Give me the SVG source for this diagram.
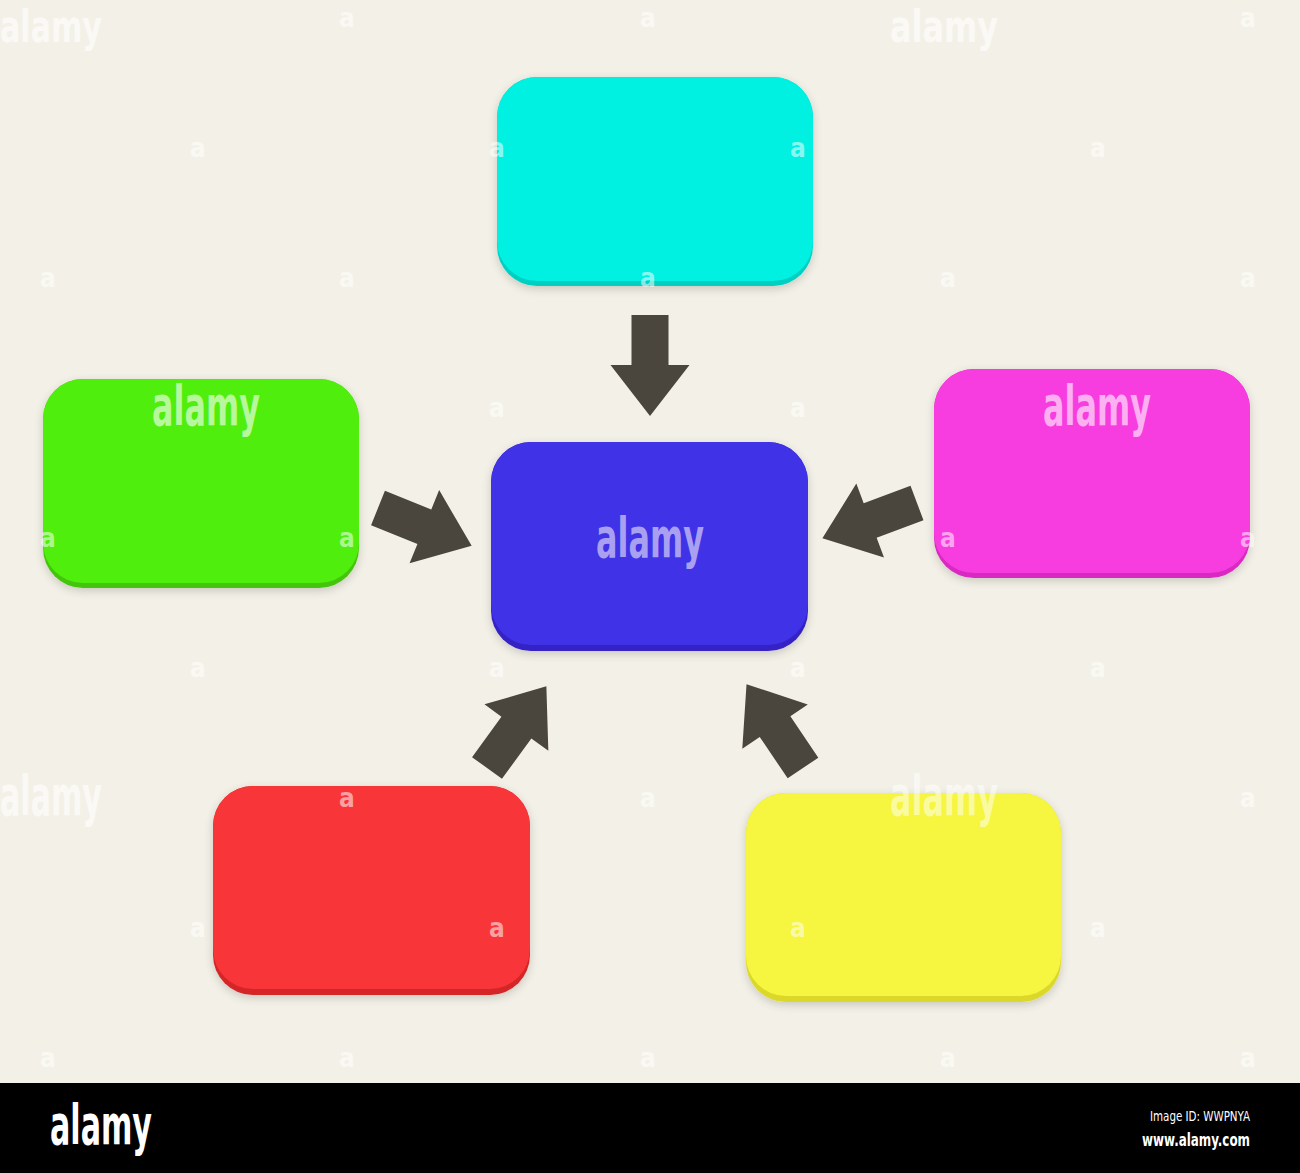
<svg xmlns="http://www.w3.org/2000/svg" width="1300" height="1173" viewBox="0 0 1300 1173">
<defs>
<style>
.wm{font-family:"DejaVu Sans Condensed","DejaVu Sans",sans-serif;font-weight:bold;font-stretch:condensed}
.sm{font-family:"DejaVu Sans Condensed","DejaVu Sans",sans-serif;font-weight:bold;font-size:26px;fill:#ffffff;fill-opacity:0.55;text-anchor:middle}
.arrow{fill:#4a463d}
</style>
<filter id="sh" x="-20%" y="-20%" width="140%" height="140%">
<feGaussianBlur in="SourceAlpha" stdDeviation="5"/>
<feOffset dx="0" dy="3"/>
<feComponentTransfer><feFuncA type="linear" slope="0.18"/></feComponentTransfer>
<feMerge><feMergeNode/><feMergeNode in="SourceGraphic"/></feMerge>
</filter>
<polygon id="arr" points="0,-18.5 50,-18.5 50,-39.5 101,0 50,39.5 50,18.5 0,18.5"/>
</defs>
<rect x="0" y="0" width="1300" height="1083" fill="#f3f1e7"/>
<rect x="0" y="1083" width="1300" height="90" fill="#000000"/>

<g id="node-cyan" filter="url(#sh)">
<rect x="497" y="77" width="316" height="209" rx="40" fill="#00cfc2"/>
<rect x="497" y="77" width="316" height="204" rx="40" fill="#02f0e2"/>
</g>
<g id="node-green" filter="url(#sh)">
<rect x="43" y="379" width="316" height="209" rx="40" fill="#45c40c"/>
<rect x="43" y="379" width="316" height="204" rx="40" fill="#50ee0a"/>
</g>
<g id="node-blue" filter="url(#sh)">
<rect x="491" y="442" width="317" height="209" rx="40" fill="#3424c4"/>
<rect x="491" y="442" width="317" height="203" rx="40" fill="#4030e6"/>
</g>
<g id="node-magenta" filter="url(#sh)">
<rect x="934" y="369" width="316" height="209" rx="40" fill="#d82cc2"/>
<rect x="934" y="369" width="316" height="204" rx="40" fill="#f83ce0"/>
</g>
<g id="node-red" filter="url(#sh)">
<rect x="213" y="786" width="317" height="209" rx="40" fill="#d42628"/>
<rect x="213" y="786" width="317" height="203" rx="40" fill="#f83438"/>
</g>
<g id="node-yellow" filter="url(#sh)">
<rect x="746" y="793" width="315" height="209" rx="40" fill="#dcd82a"/>
<rect x="746" y="793" width="315" height="203" rx="40" fill="#f6f540"/>
</g>

<g id="connectors" class="arrow">
<use href="#arr" transform="translate(650,315) rotate(90)"/>
<use href="#arr" transform="translate(378,508) rotate(22)"/>
<use href="#arr" transform="translate(917,503) rotate(159.5)"/>
<use href="#arr" transform="translate(487,768) rotate(-54)"/>
<use href="#arr" transform="translate(803,768) rotate(-124)"/>
</g>

<g id="watermarks">
<text class="wm" x="596" y="557" font-size="56" textLength="108" lengthAdjust="spacingAndGlyphs" fill="#a9a0f2">alamy</text>
<text class="wm" x="152" y="425" font-size="56" textLength="108" lengthAdjust="spacingAndGlyphs" fill="#ffffff" fill-opacity="0.6">alamy</text>
<text class="wm" x="1043" y="425" font-size="56" textLength="108" lengthAdjust="spacingAndGlyphs" fill="#ffffff" fill-opacity="0.6">alamy</text>
<text class="wm" x="0" y="42" font-size="44" textLength="102" lengthAdjust="spacingAndGlyphs" fill="#ffffff" fill-opacity="0.6">alamy</text>
<text class="wm" x="890" y="42" font-size="44" textLength="108" lengthAdjust="spacingAndGlyphs" fill="#ffffff" fill-opacity="0.6">alamy</text>
<text class="wm" x="0" y="815" font-size="56" textLength="102" lengthAdjust="spacingAndGlyphs" fill="#ffffff" fill-opacity="0.6">alamy</text>
<text class="wm" x="890" y="815" font-size="56" textLength="108" lengthAdjust="spacingAndGlyphs" fill="#ffffff" fill-opacity="0.5">alamy</text>
<g>
<text class="sm" x="347" y="27">a</text><text class="sm" x="648" y="27">a</text><text class="sm" x="1248" y="27">a</text>
<text class="sm" x="198" y="157">a</text><text class="sm" x="497" y="157">a</text><text class="sm" x="798" y="157">a</text><text class="sm" x="1098" y="157">a</text>
<text class="sm" x="48" y="287">a</text><text class="sm" x="347" y="287">a</text><text class="sm" x="648" y="287">a</text><text class="sm" x="948" y="287">a</text><text class="sm" x="1248" y="287">a</text>
<text class="sm" x="497" y="417">a</text><text class="sm" x="798" y="417">a</text>
<text class="sm" x="48" y="547">a</text><text class="sm" x="347" y="547">a</text><text class="sm" x="948" y="547">a</text><text class="sm" x="1248" y="547">a</text>
<text class="sm" x="198" y="677">a</text><text class="sm" x="497" y="677">a</text><text class="sm" x="798" y="677">a</text><text class="sm" x="1098" y="677">a</text>
<text class="sm" x="347" y="807">a</text><text class="sm" x="648" y="807">a</text><text class="sm" x="1248" y="807">a</text>
<text class="sm" x="198" y="937">a</text><text class="sm" x="497" y="937">a</text><text class="sm" x="798" y="937">a</text><text class="sm" x="1098" y="937">a</text>
<text class="sm" x="48" y="1067">a</text><text class="sm" x="347" y="1067">a</text><text class="sm" x="648" y="1067">a</text><text class="sm" x="948" y="1067">a</text><text class="sm" x="1248" y="1067">a</text>
</g>
</g>

<g id="footer">
<text class="wm" x="50" y="1144" font-size="56" textLength="102" lengthAdjust="spacingAndGlyphs" fill="#ffffff">alamy</text>
<text x="1250" y="1121" font-family="DejaVu Sans Condensed, DejaVu Sans, sans-serif" font-size="14" fill="#ffffff" text-anchor="end" textLength="100" lengthAdjust="spacingAndGlyphs">Image ID: WWPNYA</text>
<text x="1250" y="1146" font-family="DejaVu Sans Condensed, DejaVu Sans, sans-serif" font-weight="bold" font-size="17" fill="#ffffff" text-anchor="end" textLength="108" lengthAdjust="spacingAndGlyphs">www.alamy.com</text>
</g>
</svg>
